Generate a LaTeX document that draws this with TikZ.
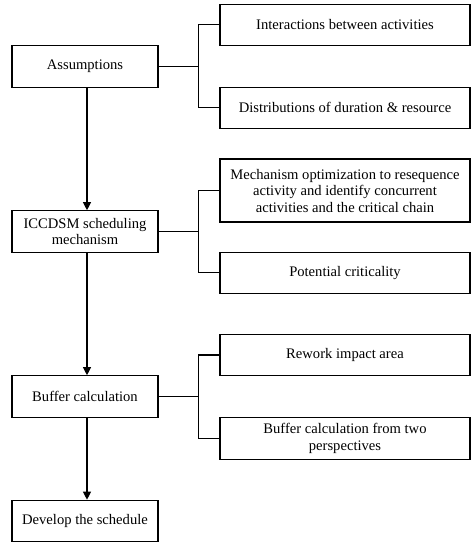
\documentclass[tikz,border=0pt]{standalone}
\usepackage{fontspec}
\setmainfont{Liberation Serif}
\usetikzlibrary{arrows.meta}
\begin{document}
\begin{tikzpicture}[x=1pt,y=-1pt,
  box/.style={draw,line width=1.1pt,inner sep=2pt,align=center,font=\fontsize{14.6}{16.5}\selectfont},
  lbox/.style={box,minimum width=146pt,minimum height=41.5pt},
  rbox/.style={box,minimum width=250pt,minimum height=41pt},
  conn/.style={line width=1.1pt},
  arr/.style={line width=1.1pt,-{Triangle[length=8pt,width=8pt]}}]
\useasboundingbox (0,0) rectangle (476,550);
\node[lbox] (a) at (85,66.5) {Assumptions};
\node[lbox] (b) at (85,231.5) {ICCDSM scheduling\\mechanism};
\node[lbox] (c) at (85,396.5) {Buffer calculation};
\node[lbox] (d) at (85,521) {Develop the schedule};
\node[rbox] (a1) at (345,24.7) {Interactions between activities};
\node[rbox] (a2) at (345,107.8) {Distributions of duration \& resource};
\node[rbox,minimum height=63pt] (b1) at (345,190.5) {Mechanism optimization to resequence\\activity and identify concurrent\\activities and the critical chain};
\node[rbox] (b2) at (345,272.8) {Potential criticality};
\node[rbox] (c1) at (345,355) {Rework impact area};
\node[rbox,minimum height=41.7pt] (c2) at (345,438.2) {Buffer calculation from two\\perspectives};
\draw[arr] ([xshift=2pt]a.south) -- ([xshift=2pt]b.north);
\draw[arr] ([xshift=2pt]b.south) -- ([xshift=2pt]c.north);
\draw[arr] ([xshift=2pt]c.south) -- ([xshift=2pt]d.north);
\foreach \p/\k in {a/a1,a/a2,b/b1,b/b2,c/c1,c/c2}
  \draw[conn] (\k.west) -- ++(-20.7,0) |- (\p.east);
\end{tikzpicture}
\end{document}
